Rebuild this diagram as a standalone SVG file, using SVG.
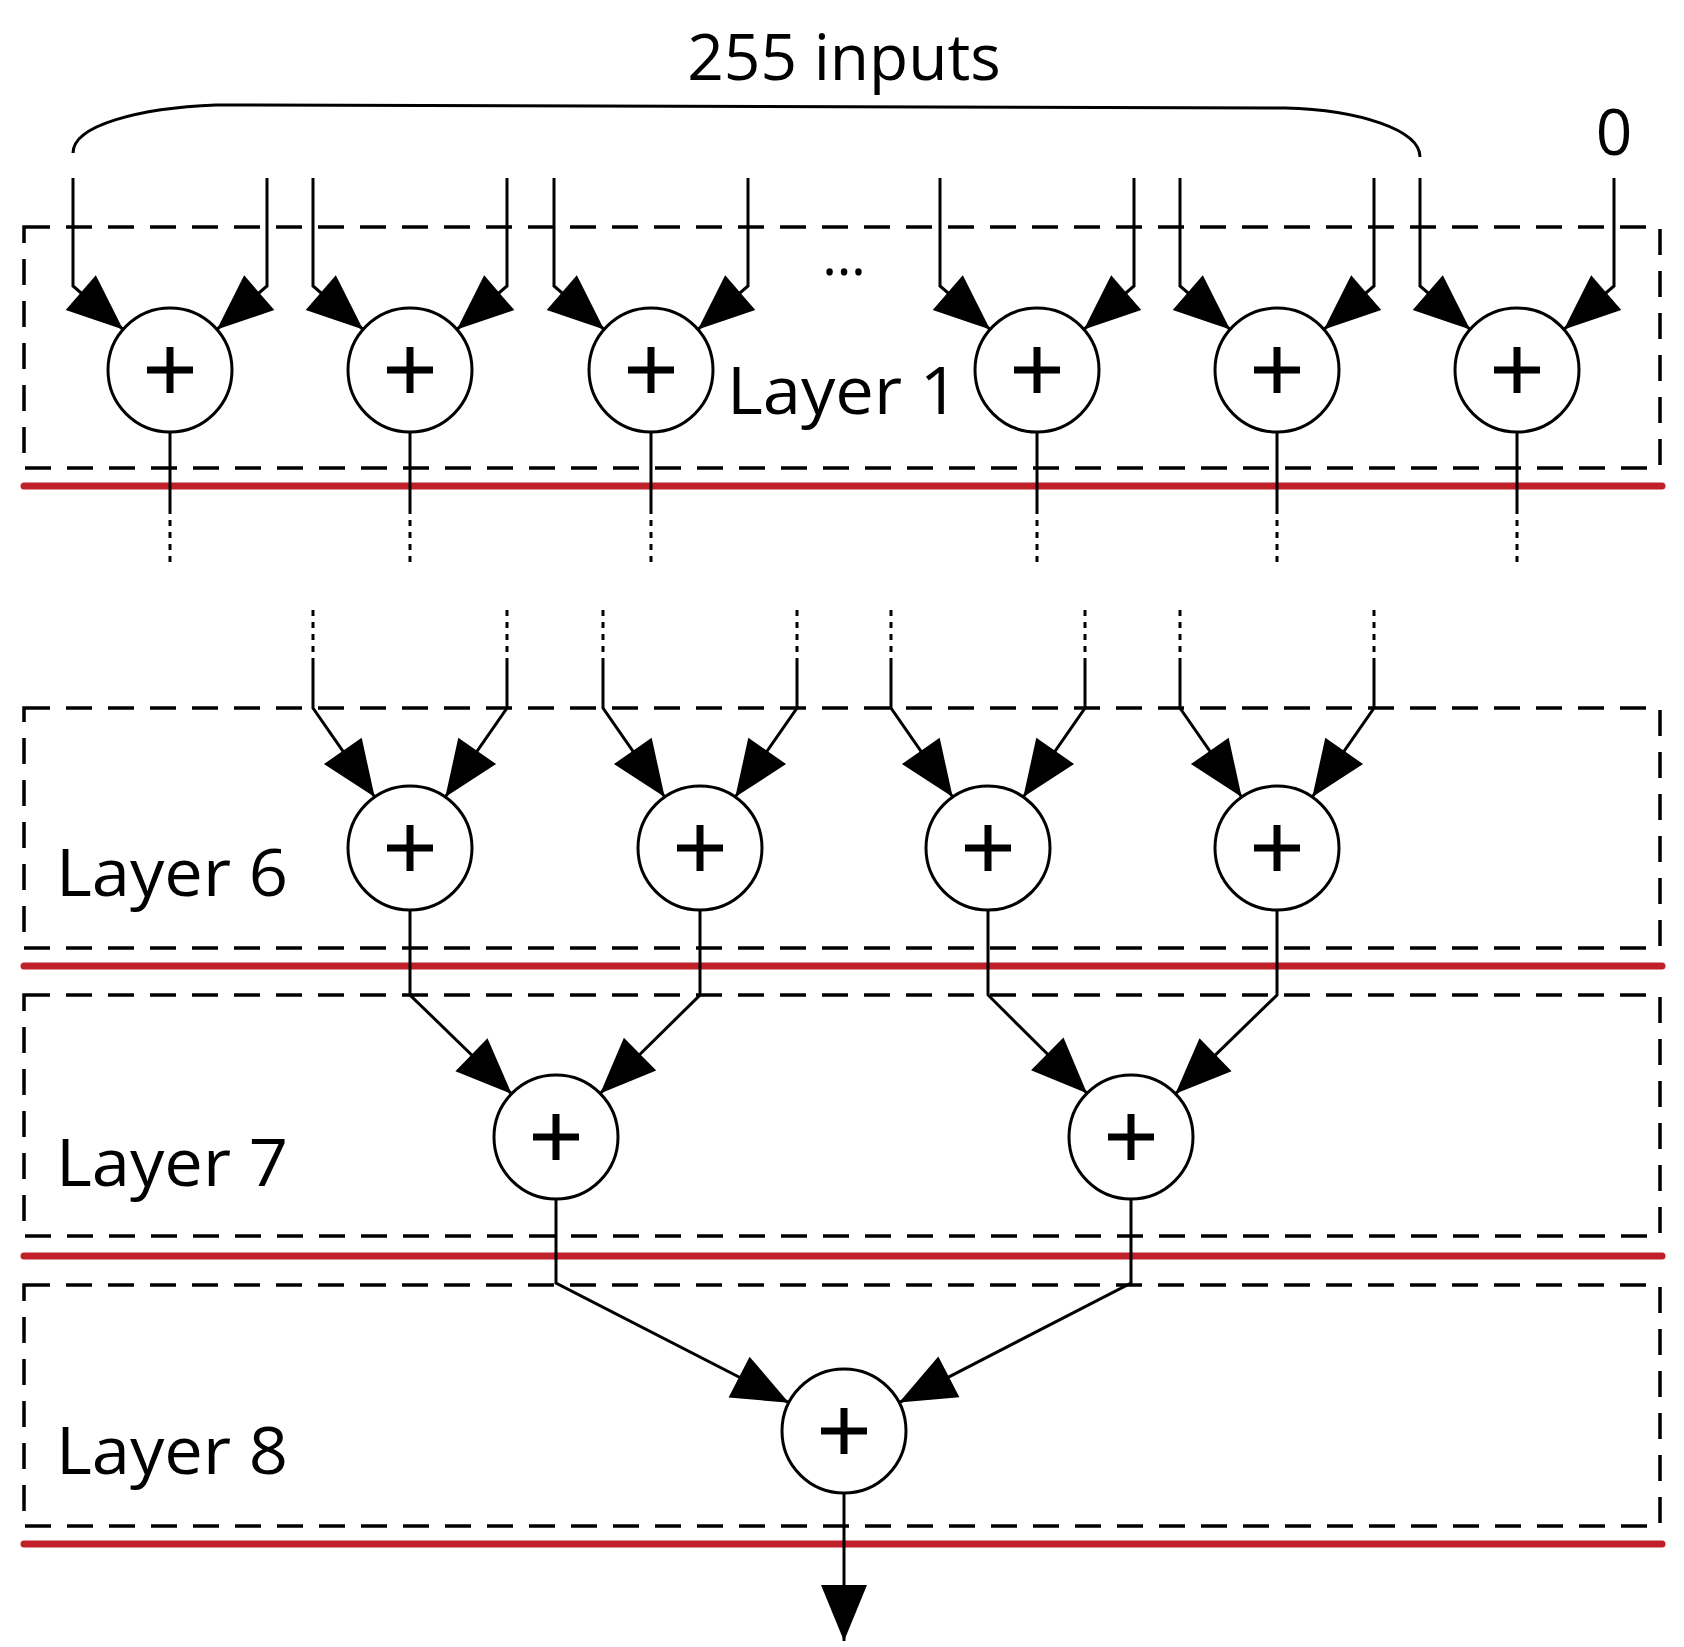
<svg xmlns="http://www.w3.org/2000/svg" width="1684" height="1647" viewBox="0 0 1684 1647">
<defs>
<marker id="ah" markerUnits="userSpaceOnUse" markerWidth="70" markerHeight="60" refX="0" refY="0" viewBox="-60 -30 62 60" orient="auto"><path d="M0,0 L-56,-23 L-56,23 Z" fill="#000"/></marker>
</defs>
<style>
.box{fill:none;stroke:#000;stroke-width:3.5;stroke-dasharray:26,16}
.red{stroke:#c0202a;stroke-width:7;stroke-linecap:round}
.w{fill:none;stroke:#000;stroke-width:3}
.dot{fill:none;stroke:#000;stroke-width:3;stroke-dasharray:6,6}
.a{fill:none;stroke:#000;stroke-width:3;marker-end:url(#ah)}
.n circle{fill:#fff;stroke:#000;stroke-width:3}
.n path{stroke:#000;stroke-width:7}
text{font-family:"Open Sans","Liberation Sans",sans-serif;fill:#000}
</style>
<rect width="1684" height="1647" fill="#fff"/>
<g id="frames">
<rect class="box" x="24" y="227" width="1636" height="241"/>
<rect class="box" x="24" y="708" width="1636" height="240"/>
<rect class="box" x="24" y="995" width="1636" height="241"/>
<rect class="box" x="24" y="1285" width="1636" height="241"/>
<line class="red" x1="24" y1="486" x2="1662" y2="486"/>
<line class="red" x1="24" y1="966" x2="1662" y2="966"/>
<line class="red" x1="24" y1="1256" x2="1662" y2="1256"/>
<line class="red" x1="24" y1="1544" x2="1662" y2="1544"/>
</g>
<g id="labels">
<text x="844" y="80" font-size="64" text-anchor="middle">255 inputs</text>
<text x="1614" y="155" font-size="64" text-anchor="middle">0</text>
<text x="844" y="275" font-size="56" text-anchor="middle">…</text>
<text x="727" y="414" font-size="66" textLength="232" lengthAdjust="spacingAndGlyphs">Layer 1</text>
<text x="56" y="896" font-size="66" textLength="232" lengthAdjust="spacingAndGlyphs">Layer 6</text>
<text x="56" y="1186" font-size="66" textLength="232" lengthAdjust="spacingAndGlyphs">Layer 7</text>
<text x="56" y="1474" font-size="66" textLength="232" lengthAdjust="spacingAndGlyphs">Layer 8</text>
</g>
<g id="connectors">
<path class="w" d="M73,153 C73,125 140,108 216,105 L1285,108 C1360,110 1420,130 1420,157"/>
<path class="a" d="M73,178 V286 L123.1,329.4"/><path class="a" d="M267,178 V286 L216.9,329.4"/>
<path class="a" d="M313,178 V286 L363.1,329.4"/><path class="a" d="M507,178 V286 L456.9,329.4"/>
<path class="a" d="M554,178 V286 L604.1,329.4"/><path class="a" d="M748,178 V286 L697.9,329.4"/>
<path class="a" d="M940,178 V286 L990.1,329.4"/><path class="a" d="M1134,178 V286 L1083.9,329.4"/>
<path class="a" d="M1180,178 V286 L1230.1,329.4"/><path class="a" d="M1374,178 V286 L1323.9,329.4"/>
<path class="a" d="M1420,178 V286 L1470.1,329.4"/><path class="a" d="M1614,178 V286 L1563.9,329.4"/>
<path class="w" d="M170,432 V508 M410,432 V508 M651,432 V508 M1037,432 V508 M1277,432 V508 M1517,432 V508"/>
<path class="dot" d="M170,508 V566 M410,508 V566 M651,508 V566 M1037,508 V566 M1277,508 V566 M1517,508 V566"/>
<path class="dot" d="M313,610 V659 M507,610 V659 M603,610 V659 M797,610 V659 M891,610 V659 M1085,610 V659 M1180,610 V659 M1374,610 V659"/>
<path class="a" d="M313,659 V708 L374.7,797"/><path class="a" d="M507,659 V708 L445.3,797"/>
<path class="a" d="M603,659 V708 L664.7,797"/><path class="a" d="M797,659 V708 L735.3,797"/>
<path class="a" d="M891,659 V708 L952.7,797"/><path class="a" d="M1085,659 V708 L1023.3,797"/>
<path class="a" d="M1180,659 V708 L1241.7,797"/><path class="a" d="M1374,659 V708 L1312.3,797"/>
<path class="a" d="M410,910 V995 L511.6,1093.8"/><path class="a" d="M700,910 V995 L600.2,1093.5"/>
<path class="a" d="M988,910 V995 L1087,1093.3"/><path class="a" d="M1277,910 V995 L1175.4,1093.8"/>
<path class="a" d="M556,1199 V1283 L788.9,1402.7"/><path class="a" d="M1131,1199 V1283 L899.1,1402.6"/>
<path class="a" d="M844,1493 V1641"/>
</g>
<g id="l1" class="n">
<g id="a1"><circle cx="170" cy="370" r="62"/><path d="M147,370 H193 M170,347 V393"/></g>
<g id="a2"><circle cx="410" cy="370" r="62"/><path d="M387,370 H433 M410,347 V393"/></g>
<g id="a3"><circle cx="651" cy="370" r="62"/><path d="M628,370 H674 M651,347 V393"/></g>
<g id="a4"><circle cx="1037" cy="370" r="62"/><path d="M1014,370 H1060 M1037,347 V393"/></g>
<g id="a5"><circle cx="1277" cy="370" r="62"/><path d="M1254,370 H1300 M1277,347 V393"/></g>
<g id="a6"><circle cx="1517" cy="370" r="62"/><path d="M1494,370 H1540 M1517,347 V393"/></g>
</g>
<g id="l6" class="n">
<g id="b1"><circle cx="410" cy="848" r="62"/><path d="M387,848 H433 M410,825 V871"/></g>
<g id="b2"><circle cx="700" cy="848" r="62"/><path d="M677,848 H723 M700,825 V871"/></g>
<g id="b3"><circle cx="988" cy="848" r="62"/><path d="M965,848 H1011 M988,825 V871"/></g>
<g id="b4"><circle cx="1277" cy="848" r="62"/><path d="M1254,848 H1300 M1277,825 V871"/></g>
</g>
<g id="l7" class="n">
<g id="c1"><circle cx="556" cy="1137" r="62"/><path d="M533,1137 H579 M556,1114 V1160"/></g>
<g id="c2"><circle cx="1131" cy="1137" r="62"/><path d="M1108,1137 H1154 M1131,1114 V1160"/></g>
</g>
<g id="l8" class="n">
<g id="d1"><circle cx="844" cy="1431" r="62"/><path d="M821,1431 H867 M844,1408 V1454"/></g>
</g>
</svg>
